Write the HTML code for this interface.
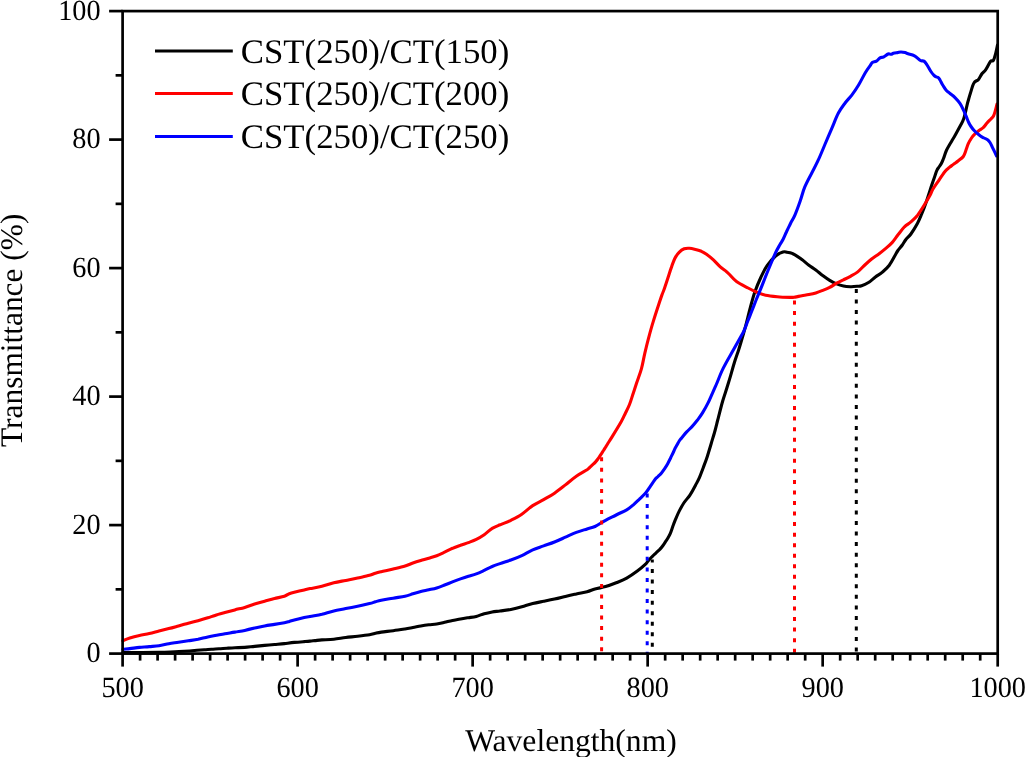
<!DOCTYPE html>
<html><head><meta charset="utf-8"><style>html,body{margin:0;padding:0;background:#fff;overflow:hidden}svg{display:block;will-change:transform}</style></head>
<body><svg width="1025" height="757" viewBox="0 0 1025 757">
<defs><clipPath id="pc"><rect x="0" y="0" width="1025" height="653.6"/></clipPath></defs>
<rect width="1025" height="757" fill="#fff"/>
<path d="M122.7,652.5 C128.8,652.5 150.3,652.5 159.0,652.4 C167.7,652.3 169.9,651.9 175.0,651.7 C180.1,651.5 185.9,651.2 189.6,651.0 C193.3,650.8 194.6,650.5 197.0,650.3 C199.4,650.1 201.9,649.9 204.3,649.7 C206.7,649.5 209.1,649.4 211.5,649.2 C213.9,649.0 216.3,648.9 218.9,648.7 C221.5,648.5 224.3,648.4 227.0,648.2 C229.7,648.0 232.1,647.8 235.0,647.7 C237.9,647.6 241.4,647.6 244.7,647.4 C248.0,647.2 251.3,646.7 254.6,646.4 C257.9,646.1 261.3,645.7 264.6,645.4 C267.9,645.1 271.2,644.8 274.5,644.5 C277.8,644.2 281.1,644.0 284.4,643.6 C287.7,643.2 291.0,642.7 294.3,642.4 C297.6,642.1 301.6,641.8 304.2,641.6 C306.8,641.4 308.2,641.3 310.0,641.1 C311.8,640.9 313.0,640.8 315.0,640.6 C317.0,640.4 318.8,640.1 321.9,639.9 C325.0,639.7 329.8,639.6 333.8,639.2 C337.8,638.8 341.7,638.0 345.7,637.5 C349.7,637.0 353.6,636.7 357.6,636.2 C361.6,635.8 366.5,635.3 369.5,634.8 C372.5,634.3 373.4,633.8 375.4,633.3 C377.4,632.8 378.3,632.5 381.3,632.1 C384.3,631.7 389.2,631.2 393.2,630.7 C397.1,630.2 401.7,629.5 405.0,629.0 C408.3,628.5 410.3,628.0 412.9,627.5 C415.5,627.0 418.1,626.4 420.8,625.9 C423.5,625.4 426.2,625.0 428.8,624.7 C431.4,624.4 434.1,624.4 436.7,624.0 C439.3,623.6 442.0,622.9 444.6,622.3 C447.2,621.7 449.9,620.9 452.5,620.4 C455.1,619.9 457.9,619.5 460.5,619.0 C463.1,618.5 465.8,618.1 468.4,617.7 C471.0,617.3 473.7,617.1 476.3,616.4 C478.9,615.7 481.6,614.5 484.2,613.7 C486.8,613.0 489.6,612.4 492.2,611.9 C494.8,611.4 496.9,611.4 500.0,611.0 C503.1,610.6 507.3,610.1 510.9,609.4 C514.5,608.7 518.2,607.8 521.8,606.8 C525.4,605.8 529.1,604.4 532.7,603.5 C536.3,602.6 540.0,602.0 543.6,601.3 C547.2,600.6 550.9,599.9 554.5,599.1 C558.1,598.3 561.8,597.3 565.4,596.4 C569.0,595.5 572.7,594.7 576.3,593.9 C579.9,593.1 584.0,592.5 587.1,591.7 C590.2,590.9 591.9,589.9 595.0,589.0 C598.1,588.1 602.1,587.6 605.6,586.6 C609.1,585.6 612.7,584.2 616.2,582.8 C619.7,581.4 623.2,580.2 626.7,578.2 C630.2,576.2 634.2,573.4 637.3,571.1 C640.3,568.9 643.1,566.5 645.0,564.7 C646.9,562.9 647.3,561.9 648.5,560.5 C649.7,559.1 651.1,557.6 652.4,556.4 C653.6,555.1 654.8,554.2 656.0,553.0 C657.2,551.8 658.6,550.6 659.8,549.4 C661.0,548.1 661.9,547.0 663.0,545.5 C664.1,544.0 665.3,541.9 666.2,540.6 C667.1,539.3 667.6,538.6 668.2,537.5 C668.8,536.4 669.2,536.0 670.0,534.2 C670.8,532.4 671.8,529.3 672.7,526.8 C673.6,524.3 674.4,522.0 675.5,519.4 C676.6,516.8 677.8,513.8 679.2,511.1 C680.6,508.4 682.0,505.7 683.8,503.0 C685.6,500.3 688.2,497.7 690.1,494.8 C692.0,491.9 693.9,488.4 695.4,485.5 C696.9,482.6 698.1,480.6 699.4,477.6 C700.7,474.6 702.0,471.0 703.3,467.5 C704.6,464.0 706.0,460.4 707.3,456.4 C708.6,452.3 710.0,447.6 711.3,443.2 C712.6,438.8 714.2,433.8 715.2,430.0 C716.2,426.2 716.4,425.3 717.6,420.5 C718.9,415.7 721.1,406.5 722.7,401.0 C724.3,395.5 725.7,391.8 727.0,387.5 C728.3,383.2 729.5,379.6 730.7,375.4 C731.9,371.2 733.1,366.7 734.4,362.5 C735.7,358.3 737.2,354.2 738.6,350.0 C740.0,345.8 741.3,341.2 742.5,337.0 C743.7,332.8 744.7,329.6 746.0,324.7 C747.3,319.8 748.8,313.2 750.3,307.7 C751.8,302.2 753.2,296.5 755.0,291.5 C756.8,286.5 758.8,281.8 760.8,277.5 C762.8,273.2 764.6,269.2 767.1,265.6 C769.6,262.0 773.0,258.3 775.6,256.0 C778.2,253.7 781.1,252.6 783.0,252.0 C784.9,251.4 785.8,252.1 787.0,252.2 C788.2,252.3 788.7,252.4 790.0,252.8 C791.3,253.2 793.0,253.7 795.0,254.8 C797.0,255.9 799.6,257.9 801.9,259.6 C804.2,261.3 806.6,263.5 808.9,265.2 C811.2,266.9 813.5,268.3 815.8,270.0 C818.1,271.7 820.4,273.9 822.7,275.6 C825.0,277.3 827.4,279.0 829.7,280.4 C832.0,281.8 834.3,283.0 836.6,283.9 C838.9,284.8 841.2,285.5 843.5,286.0 C845.8,286.5 848.2,286.6 850.5,286.7 C852.8,286.8 855.5,286.5 857.4,286.3 C859.2,286.1 859.8,286.3 861.6,285.7 C863.5,285.1 866.2,283.9 868.5,282.5 C870.8,281.1 873.1,278.7 875.4,277.0 C877.7,275.3 880.1,274.1 882.4,272.1 C884.7,270.1 887.2,268.0 889.3,265.2 C891.4,262.4 893.6,257.9 895.0,255.5 C896.4,253.1 896.7,252.2 897.9,250.5 C899.1,248.8 901.0,246.8 902.3,245.0 C903.6,243.2 904.5,241.3 905.9,239.5 C907.3,237.7 909.0,236.7 910.9,234.0 C912.8,231.3 915.6,226.8 917.4,223.5 C919.2,220.2 920.3,217.3 921.7,214.0 C923.1,210.7 924.1,208.2 925.7,203.5 C927.4,198.8 930.1,190.1 931.6,185.5 C933.1,180.9 934.0,178.5 934.9,176.0 C935.8,173.5 936.2,171.8 936.9,170.3 C937.6,168.8 938.3,168.1 939.0,167.0 C939.7,165.9 940.5,165.1 941.2,163.7 C942.0,162.3 942.6,160.7 943.5,158.5 C944.4,156.3 945.1,153.3 946.4,150.5 C947.7,147.7 950.1,143.9 951.5,141.4 C952.9,138.9 953.9,137.5 955.0,135.5 C956.1,133.5 957.4,131.1 958.4,129.3 C959.4,127.5 960.1,126.2 961.0,124.5 C961.9,122.8 962.9,121.1 963.6,119.0 C964.4,116.9 964.9,114.3 965.5,112.0 C966.1,109.7 966.5,107.5 967.0,105.3 C967.5,103.1 968.1,101.0 968.7,99.0 C969.3,97.0 969.5,96.0 970.4,93.3 C971.3,90.6 972.5,85.3 973.9,83.0 C975.2,80.7 977.1,81.0 978.5,79.4 C979.9,77.8 980.9,75.1 982.1,73.5 C983.3,71.9 984.2,71.9 985.6,69.9 C987.0,67.9 989.1,63.2 990.4,61.6 C991.7,60.0 992.5,61.8 993.4,60.4 C994.3,59.0 995.0,55.9 995.7,53.3 C996.4,50.7 997.2,46.4 997.5,45.0" fill="none" stroke="#000" stroke-width="3.1" stroke-linejoin="round" stroke-linecap="round"/><path d="M122.9,640.8 C124.1,640.3 127.0,638.8 129.8,637.9 C132.6,637.0 136.2,636.1 139.5,635.4 C142.8,634.7 146.1,634.2 149.3,633.5 C152.6,632.8 155.8,631.8 159.0,631.0 C162.2,630.2 165.6,629.4 168.8,628.6 C172.1,627.8 175.2,626.9 178.5,626.0 C181.8,625.1 185.1,624.1 188.3,623.2 C191.6,622.3 194.8,621.6 198.0,620.7 C201.2,619.8 205.0,618.7 207.8,617.8 C210.6,616.9 212.2,616.3 215.0,615.4 C217.8,614.5 221.6,613.5 224.9,612.6 C228.2,611.7 231.5,610.8 234.8,609.9 C238.1,609.0 241.4,608.4 244.7,607.4 C248.0,606.4 251.3,605.1 254.6,604.1 C257.9,603.1 261.3,602.1 264.6,601.2 C267.9,600.3 271.2,599.3 274.5,598.5 C277.8,597.7 281.9,597.0 284.4,596.2 C286.9,595.4 287.6,594.4 289.3,593.7 C291.0,593.1 291.8,592.9 294.3,592.3 C296.8,591.7 301.6,590.5 304.2,589.9 C306.8,589.3 307.1,589.2 310.0,588.6 C312.9,588.0 317.9,587.3 321.9,586.3 C325.9,585.3 329.8,583.8 333.8,582.8 C337.8,581.8 341.7,581.2 345.7,580.4 C349.7,579.6 353.6,578.9 357.6,578.0 C361.6,577.1 366.5,576.1 369.5,575.3 C372.5,574.5 373.4,573.8 375.4,573.2 C377.4,572.6 378.3,572.4 381.3,571.7 C384.3,571.0 389.2,570.1 393.2,569.1 C397.2,568.1 401.8,567.0 405.1,566.0 C408.4,565.0 410.3,563.9 412.9,563.0 C415.5,562.1 418.1,561.3 420.8,560.5 C423.5,559.7 426.2,559.0 428.8,558.2 C431.4,557.4 434.1,556.7 436.7,555.7 C439.3,554.7 442.0,553.4 444.6,552.2 C447.2,551.0 449.9,549.4 452.5,548.3 C455.1,547.1 457.9,546.2 460.5,545.3 C463.1,544.3 465.8,543.6 468.4,542.6 C471.0,541.6 473.7,540.7 476.3,539.4 C478.9,538.1 481.6,536.5 484.2,534.7 C486.8,532.9 489.5,530.0 492.2,528.4 C494.9,526.8 497.0,526.1 500.1,524.8 C503.2,523.4 507.3,522.1 510.9,520.3 C514.5,518.5 518.2,516.7 521.8,514.2 C525.4,511.8 529.1,508.0 532.7,505.6 C536.3,503.2 540.0,501.8 543.6,499.7 C547.2,497.6 550.9,495.7 554.5,493.2 C558.1,490.7 561.8,487.7 565.4,484.9 C569.0,482.1 572.7,478.7 576.3,476.2 C579.9,473.7 584.8,471.2 587.1,469.7 C589.4,468.1 589.3,467.8 590.3,466.9 C591.3,466.0 592.1,465.2 593.0,464.4 C593.9,463.6 594.6,463.0 595.6,461.9 C596.6,460.8 597.8,459.1 598.7,457.9 C599.6,456.7 600.0,455.9 600.8,454.7 C601.6,453.5 602.6,451.9 603.5,450.5 C604.4,449.1 605.2,447.7 606.1,446.3 C607.0,444.9 607.7,443.7 608.8,442.0 C609.9,440.3 610.4,439.5 612.5,436.1 C614.6,432.7 619.1,425.4 621.3,421.5 C623.5,417.6 624.1,415.8 625.5,413.0 C626.9,410.2 628.2,407.7 629.5,404.5 C630.8,401.3 631.8,397.6 633.0,394.0 C634.2,390.4 635.2,387.3 636.6,383.1 C638.0,378.9 640.0,373.9 641.4,368.9 C642.8,363.8 643.7,357.9 644.9,352.8 C646.1,347.7 647.1,343.5 648.5,338.3 C649.9,333.1 651.3,327.8 653.3,321.4 C655.2,315.0 658.7,304.6 660.2,300.0 C661.7,295.4 661.6,295.9 662.3,294.0 C663.0,292.1 663.6,291.0 664.5,288.3 C665.4,285.6 666.8,281.4 667.9,278.0 C669.0,274.6 670.1,270.9 671.3,267.6 C672.4,264.4 673.5,261.1 674.8,258.5 C676.1,255.9 677.5,253.9 679.1,252.3 C680.7,250.7 682.5,249.5 684.2,248.8 C685.9,248.1 687.7,248.2 689.4,248.3 C691.1,248.4 692.5,248.7 694.5,249.2 C696.5,249.7 699.4,250.5 701.4,251.3 C703.4,252.2 704.5,252.9 706.5,254.3 C708.5,255.7 711.1,257.8 713.4,259.9 C715.7,262.0 718.4,265.1 720.3,266.8 C722.2,268.6 723.5,269.2 725.0,270.4 C726.5,271.6 727.1,272.1 729.0,274.0 C730.9,275.9 733.3,279.2 736.5,281.5 C739.7,283.8 744.7,286.2 748.1,288.0 C751.5,289.8 754.0,291.1 756.9,292.3 C759.8,293.5 762.2,294.5 765.6,295.2 C769.0,295.9 773.1,296.3 777.2,296.7 C781.3,297.1 787.0,297.3 790.0,297.4 C793.0,297.5 793.0,297.4 795.0,297.1 C797.0,296.8 799.6,296.1 801.9,295.7 C804.2,295.3 806.6,295.1 808.9,294.6 C811.2,294.1 813.5,293.6 815.8,292.9 C818.1,292.2 820.4,291.3 822.7,290.4 C825.0,289.5 827.4,288.6 829.7,287.4 C832.0,286.2 834.3,284.5 836.6,283.2 C838.9,281.9 841.2,280.9 843.5,279.8 C845.8,278.7 848.2,277.6 850.5,276.3 C852.8,275.0 855.1,273.9 857.4,272.1 C859.7,270.3 862.0,267.6 864.3,265.5 C866.6,263.4 869.0,261.2 871.3,259.3 C873.6,257.4 875.9,256.1 878.2,254.4 C880.5,252.7 882.9,250.9 885.2,248.9 C887.5,246.9 890.0,244.9 892.1,242.6 C894.2,240.2 895.9,237.4 898.0,234.8 C900.1,232.2 902.4,229.0 904.5,226.8 C906.6,224.7 908.8,223.8 910.9,221.9 C913.0,220.0 915.2,218.1 917.4,215.4 C919.5,212.7 921.7,209.2 923.8,205.8 C925.9,202.4 928.7,197.7 930.2,195.0 C931.7,192.3 931.2,192.0 932.7,189.4 C934.2,186.8 937.5,182.3 939.5,179.3 C941.5,176.3 943.4,173.5 945.0,171.5 C946.6,169.5 948.0,168.6 949.4,167.4 C950.8,166.2 952.0,165.5 953.4,164.4 C954.8,163.3 956.4,162.3 958.0,161.0 C959.6,159.7 962.0,158.3 963.3,156.5 C964.6,154.7 965.2,152.2 966.0,150.0 C966.8,147.8 967.4,145.6 968.3,143.6 C969.2,141.6 970.4,139.7 971.5,138.0 C972.6,136.3 974.0,134.9 975.2,133.7 C976.5,132.4 977.7,131.5 979.0,130.5 C980.3,129.5 981.9,128.9 983.2,127.7 C984.5,126.5 985.7,124.5 987.0,123.0 C988.3,121.5 990.0,120.0 991.1,118.8 C992.2,117.6 992.9,117.2 993.5,116.0 C994.1,114.8 994.4,113.9 995.0,111.9 C995.6,109.9 996.7,105.3 997.0,104.0" fill="none" stroke="#f00" stroke-width="3.1" stroke-linejoin="round" stroke-linecap="round"/><path d="M122.9,649.4 C124.1,649.3 127.0,648.9 129.8,648.6 C132.6,648.3 136.2,647.7 139.5,647.4 C142.8,647.1 146.1,646.9 149.3,646.6 C152.6,646.3 155.8,646.2 159.0,645.7 C162.2,645.2 165.6,644.3 168.8,643.7 C172.1,643.1 175.2,642.8 178.5,642.3 C181.8,641.8 185.1,641.3 188.3,640.8 C191.6,640.3 194.8,639.9 198.0,639.3 C201.2,638.6 205.0,637.5 207.8,636.9 C210.6,636.3 212.2,636.0 215.0,635.5 C217.8,635.0 221.6,634.4 224.9,633.8 C228.2,633.2 231.5,632.7 234.8,632.1 C238.1,631.5 241.4,631.1 244.7,630.4 C248.0,629.7 251.3,628.9 254.6,628.1 C257.9,627.4 261.3,626.5 264.6,625.9 C267.9,625.3 271.2,624.9 274.5,624.4 C277.8,623.9 281.9,623.2 284.4,622.7 C286.9,622.2 287.6,621.9 289.3,621.4 C291.0,620.9 291.8,620.6 294.3,620.0 C296.8,619.4 301.6,618.2 304.2,617.6 C306.8,617.0 307.1,617.2 310.0,616.6 C312.9,616.0 317.9,615.2 321.9,614.3 C325.9,613.3 329.8,611.8 333.8,610.9 C337.8,610.0 341.7,609.4 345.7,608.6 C349.7,607.8 353.6,607.0 357.6,606.2 C361.6,605.4 366.5,604.3 369.5,603.6 C372.5,602.9 373.4,602.4 375.4,601.8 C377.4,601.2 378.3,600.8 381.3,600.2 C384.3,599.6 389.2,598.9 393.2,598.2 C397.1,597.5 401.7,596.9 405.0,596.2 C408.3,595.5 410.3,594.6 412.9,593.8 C415.5,593.0 418.1,592.2 420.8,591.5 C423.5,590.8 426.2,590.4 428.8,589.8 C431.4,589.2 434.1,588.7 436.7,587.9 C439.3,587.1 442.0,586.0 444.6,585.0 C447.2,584.0 449.9,582.9 452.5,581.9 C455.1,580.9 457.9,579.8 460.5,578.9 C463.1,578.0 465.8,577.1 468.4,576.3 C471.0,575.5 473.7,574.9 476.3,573.9 C478.9,572.9 481.6,571.6 484.2,570.4 C486.8,569.2 489.6,567.6 492.2,566.5 C494.8,565.4 496.9,564.7 500.0,563.6 C503.1,562.5 507.3,561.3 510.9,560.0 C514.5,558.7 518.2,557.3 521.8,555.6 C525.4,553.9 529.1,551.4 532.7,549.8 C536.3,548.2 540.0,547.2 543.6,545.9 C547.2,544.6 550.9,543.5 554.5,542.0 C558.1,540.5 561.8,538.8 565.4,537.2 C569.0,535.6 572.7,533.8 576.3,532.4 C579.9,531.0 584.0,529.9 587.1,528.9 C590.2,527.9 591.9,527.9 595.0,526.5 C598.1,525.1 602.1,522.2 605.6,520.3 C609.1,518.4 612.7,516.8 616.2,515.0 C619.7,513.2 623.9,511.4 626.7,509.8 C629.5,508.2 631.0,506.9 633.1,505.1 C635.2,503.3 637.3,501.2 639.4,499.2 C641.5,497.1 644.0,494.9 645.8,492.8 C647.6,490.7 648.5,489.0 650.0,486.8 C651.5,484.6 653.7,481.2 655.0,479.5 C656.3,477.8 657.0,477.6 658.0,476.5 C659.0,475.4 660.2,474.5 661.3,473.2 C662.4,471.9 663.4,470.4 664.5,468.8 C665.6,467.2 666.7,465.5 667.7,463.7 C668.7,461.9 669.6,460.0 670.5,458.2 C671.4,456.4 672.2,454.6 673.0,453.0 C673.8,451.4 674.3,449.9 675.0,448.5 C675.7,447.1 676.5,445.9 677.2,444.6 C677.9,443.4 678.5,442.1 679.2,441.0 C679.9,439.9 680.6,439.2 681.4,438.2 C682.2,437.2 683.1,436.1 684.0,435.0 C684.9,433.9 685.4,433.3 686.7,431.9 C688.0,430.5 690.2,428.5 692.0,426.6 C693.8,424.7 695.5,422.6 697.3,420.3 C699.0,418.0 700.8,415.7 702.5,412.9 C704.2,410.1 706.1,406.8 707.8,403.4 C709.5,400.0 711.1,396.0 712.6,392.8 C714.1,389.6 714.7,388.1 716.5,384.0 C718.3,379.9 720.5,373.6 723.4,367.9 C726.2,362.1 730.7,354.7 733.6,349.5 C736.5,344.3 739.2,339.6 740.9,336.5 C742.6,333.4 742.7,333.7 743.9,331.0 C745.1,328.3 746.6,324.0 748.0,320.5 C749.4,317.0 750.9,313.4 752.3,309.8 C753.7,306.2 755.1,302.5 756.5,299.0 C757.9,295.5 759.4,292.2 760.8,288.7 C762.2,285.2 763.6,281.5 765.0,278.0 C766.4,274.5 767.5,271.7 769.3,267.5 C771.1,263.3 773.8,256.5 775.6,252.7 C777.4,248.9 778.8,246.7 780.0,244.5 C781.2,242.3 781.9,241.6 783.0,239.5 C784.1,237.4 785.1,234.7 786.4,232.0 C787.6,229.3 789.1,226.4 790.5,223.5 C791.9,220.6 793.4,218.6 795.0,214.8 C796.6,211.1 798.6,205.6 800.2,201.0 C801.8,196.4 802.8,191.8 804.7,187.2 C806.6,182.6 809.1,178.2 811.4,173.7 C813.6,169.2 816.0,165.1 818.2,160.2 C820.5,155.3 822.7,149.7 824.9,144.5 C827.1,139.3 829.4,134.0 831.6,128.8 C833.9,123.6 836.1,117.4 838.4,113.1 C840.6,108.8 842.9,106.0 845.1,103.0 C847.3,100.0 849.5,98.1 851.8,95.1 C854.0,92.1 856.4,88.7 858.6,85.0 C860.9,81.3 863.4,75.9 865.3,72.7 C867.2,69.5 868.8,67.5 870.0,65.8 C871.2,64.1 871.2,63.3 872.3,62.5 C873.4,61.7 875.1,61.9 876.4,61.1 C877.7,60.3 878.8,58.6 880.0,57.9 C881.2,57.2 882.1,57.6 883.5,57.0 C884.9,56.4 886.8,54.5 888.1,54.0 C889.4,53.5 890.2,54.4 891.1,54.3 C892.0,54.2 892.3,53.6 893.4,53.3 C894.5,53.0 896.2,52.8 897.5,52.6 C898.8,52.4 899.7,52.0 901.0,52.0 C902.3,52.0 903.9,52.3 905.1,52.6 C906.3,52.9 906.5,53.3 908.1,53.8 C909.7,54.3 912.5,54.7 914.5,55.8 C916.5,56.9 918.8,59.6 920.4,60.5 C922.0,61.4 922.8,60.4 923.9,61.1 C925.0,61.8 925.6,62.9 926.8,64.6 C928.0,66.3 929.7,69.7 930.9,71.5 C932.1,73.3 933.1,74.4 934.0,75.3 C934.9,76.2 935.8,76.6 936.5,77.0 C937.2,77.4 937.7,77.1 938.3,77.6 C938.9,78.1 939.2,78.7 940.0,80.0 C940.8,81.3 941.9,83.8 943.0,85.5 C944.1,87.2 945.2,89.2 946.4,90.5 C947.6,91.8 948.6,92.3 950.0,93.5 C951.4,94.7 953.3,95.9 955.0,97.6 C956.7,99.3 958.7,101.5 960.1,103.6 C961.5,105.7 962.6,108.3 963.6,110.4 C964.6,112.5 965.1,114.0 966.0,116.0 C966.9,118.0 967.9,120.8 968.7,122.5 C969.5,124.2 970.1,125.2 971.0,126.5 C971.9,127.8 972.9,129.1 973.9,130.2 C974.9,131.3 975.9,132.2 977.0,133.2 C978.1,134.2 979.6,135.4 980.8,136.2 C982.0,137.0 982.9,137.4 984.0,138.0 C985.1,138.6 986.6,138.9 987.6,139.7 C988.6,140.4 989.1,141.1 990.0,142.5 C990.9,143.9 991.7,145.9 992.8,148.2 C993.9,150.4 996.0,154.7 996.6,156.0" fill="none" stroke="#00f" stroke-width="3.1" stroke-linejoin="round" stroke-linecap="round"/><line x1="601.6" y1="651.2" x2="601.6" y2="457" stroke="#f00" stroke-width="3" stroke-dasharray="4 6.55" clip-path="url(#pc)"/><line x1="647.2" y1="655.8" x2="647.2" y2="493.5" stroke="#00f" stroke-width="3" stroke-dasharray="4 6.55" clip-path="url(#pc)"/><line x1="652.3" y1="657.4" x2="652.3" y2="559.5" stroke="#000" stroke-width="3" stroke-dasharray="4 6.55" clip-path="url(#pc)"/><line x1="794.5" y1="652.7" x2="794.5" y2="300" stroke="#f00" stroke-width="3" stroke-dasharray="4 6.55" clip-path="url(#pc)"/><line x1="856.3" y1="651.6" x2="856.3" y2="289" stroke="#000" stroke-width="3" stroke-dasharray="4 6.55" clip-path="url(#pc)"/>
<rect x="122.6" y="11.1" width="875.1" height="642.5" fill="none" stroke="#000" stroke-width="2.7"/><line x1="122.60" y1="653.6" x2="122.60" y2="666.6" stroke="#000" stroke-width="2.7"/><line x1="140.10" y1="653.6" x2="140.10" y2="660.6" stroke="#000" stroke-width="2.7"/><line x1="157.60" y1="653.6" x2="157.60" y2="660.6" stroke="#000" stroke-width="2.7"/><line x1="175.11" y1="653.6" x2="175.11" y2="660.6" stroke="#000" stroke-width="2.7"/><line x1="192.61" y1="653.6" x2="192.61" y2="660.6" stroke="#000" stroke-width="2.7"/><line x1="210.11" y1="653.6" x2="210.11" y2="660.6" stroke="#000" stroke-width="2.7"/><line x1="227.61" y1="653.6" x2="227.61" y2="660.6" stroke="#000" stroke-width="2.7"/><line x1="245.11" y1="653.6" x2="245.11" y2="660.6" stroke="#000" stroke-width="2.7"/><line x1="262.62" y1="653.6" x2="262.62" y2="660.6" stroke="#000" stroke-width="2.7"/><line x1="280.12" y1="653.6" x2="280.12" y2="660.6" stroke="#000" stroke-width="2.7"/><line x1="297.62" y1="653.6" x2="297.62" y2="666.6" stroke="#000" stroke-width="2.7"/><line x1="315.12" y1="653.6" x2="315.12" y2="660.6" stroke="#000" stroke-width="2.7"/><line x1="332.62" y1="653.6" x2="332.62" y2="660.6" stroke="#000" stroke-width="2.7"/><line x1="350.13" y1="653.6" x2="350.13" y2="660.6" stroke="#000" stroke-width="2.7"/><line x1="367.63" y1="653.6" x2="367.63" y2="660.6" stroke="#000" stroke-width="2.7"/><line x1="385.13" y1="653.6" x2="385.13" y2="660.6" stroke="#000" stroke-width="2.7"/><line x1="402.63" y1="653.6" x2="402.63" y2="660.6" stroke="#000" stroke-width="2.7"/><line x1="420.13" y1="653.6" x2="420.13" y2="660.6" stroke="#000" stroke-width="2.7"/><line x1="437.64" y1="653.6" x2="437.64" y2="660.6" stroke="#000" stroke-width="2.7"/><line x1="455.14" y1="653.6" x2="455.14" y2="660.6" stroke="#000" stroke-width="2.7"/><line x1="472.64" y1="653.6" x2="472.64" y2="666.6" stroke="#000" stroke-width="2.7"/><line x1="490.14" y1="653.6" x2="490.14" y2="660.6" stroke="#000" stroke-width="2.7"/><line x1="507.64" y1="653.6" x2="507.64" y2="660.6" stroke="#000" stroke-width="2.7"/><line x1="525.15" y1="653.6" x2="525.15" y2="660.6" stroke="#000" stroke-width="2.7"/><line x1="542.65" y1="653.6" x2="542.65" y2="660.6" stroke="#000" stroke-width="2.7"/><line x1="560.15" y1="653.6" x2="560.15" y2="660.6" stroke="#000" stroke-width="2.7"/><line x1="577.65" y1="653.6" x2="577.65" y2="660.6" stroke="#000" stroke-width="2.7"/><line x1="595.15" y1="653.6" x2="595.15" y2="660.6" stroke="#000" stroke-width="2.7"/><line x1="612.66" y1="653.6" x2="612.66" y2="660.6" stroke="#000" stroke-width="2.7"/><line x1="630.16" y1="653.6" x2="630.16" y2="660.6" stroke="#000" stroke-width="2.7"/><line x1="647.66" y1="653.6" x2="647.66" y2="666.6" stroke="#000" stroke-width="2.7"/><line x1="665.16" y1="653.6" x2="665.16" y2="660.6" stroke="#000" stroke-width="2.7"/><line x1="682.66" y1="653.6" x2="682.66" y2="660.6" stroke="#000" stroke-width="2.7"/><line x1="700.17" y1="653.6" x2="700.17" y2="660.6" stroke="#000" stroke-width="2.7"/><line x1="717.67" y1="653.6" x2="717.67" y2="660.6" stroke="#000" stroke-width="2.7"/><line x1="735.17" y1="653.6" x2="735.17" y2="660.6" stroke="#000" stroke-width="2.7"/><line x1="752.67" y1="653.6" x2="752.67" y2="660.6" stroke="#000" stroke-width="2.7"/><line x1="770.17" y1="653.6" x2="770.17" y2="660.6" stroke="#000" stroke-width="2.7"/><line x1="787.68" y1="653.6" x2="787.68" y2="660.6" stroke="#000" stroke-width="2.7"/><line x1="805.18" y1="653.6" x2="805.18" y2="660.6" stroke="#000" stroke-width="2.7"/><line x1="822.68" y1="653.6" x2="822.68" y2="666.6" stroke="#000" stroke-width="2.7"/><line x1="840.18" y1="653.6" x2="840.18" y2="660.6" stroke="#000" stroke-width="2.7"/><line x1="857.68" y1="653.6" x2="857.68" y2="660.6" stroke="#000" stroke-width="2.7"/><line x1="875.19" y1="653.6" x2="875.19" y2="660.6" stroke="#000" stroke-width="2.7"/><line x1="892.69" y1="653.6" x2="892.69" y2="660.6" stroke="#000" stroke-width="2.7"/><line x1="910.19" y1="653.6" x2="910.19" y2="660.6" stroke="#000" stroke-width="2.7"/><line x1="927.69" y1="653.6" x2="927.69" y2="660.6" stroke="#000" stroke-width="2.7"/><line x1="945.19" y1="653.6" x2="945.19" y2="660.6" stroke="#000" stroke-width="2.7"/><line x1="962.70" y1="653.6" x2="962.70" y2="660.6" stroke="#000" stroke-width="2.7"/><line x1="980.20" y1="653.6" x2="980.20" y2="660.6" stroke="#000" stroke-width="2.7"/><line x1="997.70" y1="653.6" x2="997.70" y2="666.6" stroke="#000" stroke-width="2.7"/><line x1="122.6" y1="653.60" x2="109.1" y2="653.60" stroke="#000" stroke-width="2.7"/><line x1="122.6" y1="589.35" x2="115.6" y2="589.35" stroke="#000" stroke-width="2.7"/><line x1="122.6" y1="525.10" x2="109.1" y2="525.10" stroke="#000" stroke-width="2.7"/><line x1="122.6" y1="460.85" x2="115.6" y2="460.85" stroke="#000" stroke-width="2.7"/><line x1="122.6" y1="396.60" x2="109.1" y2="396.60" stroke="#000" stroke-width="2.7"/><line x1="122.6" y1="332.35" x2="115.6" y2="332.35" stroke="#000" stroke-width="2.7"/><line x1="122.6" y1="268.10" x2="109.1" y2="268.10" stroke="#000" stroke-width="2.7"/><line x1="122.6" y1="203.85" x2="115.6" y2="203.85" stroke="#000" stroke-width="2.7"/><line x1="122.6" y1="139.60" x2="109.1" y2="139.60" stroke="#000" stroke-width="2.7"/><line x1="122.6" y1="75.35" x2="115.6" y2="75.35" stroke="#000" stroke-width="2.7"/><line x1="122.6" y1="11.10" x2="109.1" y2="11.10" stroke="#000" stroke-width="2.7"/>
<text transform="translate(122.6,696.8) scale(1.01,1.045)" font-size="28" text-anchor="middle" font-family="Liberation Serif, serif" text-rendering="geometricPrecision">500</text><text transform="translate(297.6,696.8) scale(1.01,1.045)" font-size="28" text-anchor="middle" font-family="Liberation Serif, serif" text-rendering="geometricPrecision">600</text><text transform="translate(472.6,696.8) scale(1.01,1.045)" font-size="28" text-anchor="middle" font-family="Liberation Serif, serif" text-rendering="geometricPrecision">700</text><text transform="translate(647.7,696.8) scale(1.01,1.045)" font-size="28" text-anchor="middle" font-family="Liberation Serif, serif" text-rendering="geometricPrecision">800</text><text transform="translate(822.7,696.8) scale(1.01,1.045)" font-size="28" text-anchor="middle" font-family="Liberation Serif, serif" text-rendering="geometricPrecision">900</text><text transform="translate(997.7,696.8) scale(1.01,1.045)" font-size="28" text-anchor="middle" font-family="Liberation Serif, serif" text-rendering="geometricPrecision">1000</text><text transform="translate(100.6,662.2) scale(1.01,1.045)" font-size="28" text-anchor="end" font-family="Liberation Serif, serif" text-rendering="geometricPrecision">0</text><text transform="translate(100.6,533.7) scale(1.01,1.045)" font-size="28" text-anchor="end" font-family="Liberation Serif, serif" text-rendering="geometricPrecision">20</text><text transform="translate(100.6,405.2) scale(1.01,1.045)" font-size="28" text-anchor="end" font-family="Liberation Serif, serif" text-rendering="geometricPrecision">40</text><text transform="translate(100.6,276.7) scale(1.01,1.045)" font-size="28" text-anchor="end" font-family="Liberation Serif, serif" text-rendering="geometricPrecision">60</text><text transform="translate(100.6,148.2) scale(1.01,1.045)" font-size="28" text-anchor="end" font-family="Liberation Serif, serif" text-rendering="geometricPrecision">80</text><text transform="translate(100.6,19.7) scale(1.01,1.045)" font-size="28" text-anchor="end" font-family="Liberation Serif, serif" text-rendering="geometricPrecision">100</text><text transform="translate(571,750.6) scale(1.0,1.0)" font-size="31.6" text-anchor="middle" font-family="Liberation Serif, serif" text-rendering="geometricPrecision">Wavelength(nm)</text><text transform="translate(21.6,330.3) rotate(-90)" font-size="31.4" text-anchor="middle" font-family="Liberation Serif, serif" text-rendering="geometricPrecision">Transmittance (%)</text><line x1="155" y1="51" x2="232.8" y2="51" stroke="#000" stroke-width="3"/><text transform="translate(240.8,62.6) scale(1.008,1.0)" font-size="34.5" font-family="Liberation Serif, serif" text-rendering="geometricPrecision">CST(250)/CT(150)</text><line x1="155" y1="93.6" x2="232.8" y2="93.6" stroke="#f00" stroke-width="3"/><text transform="translate(240.8,105.19999999999999) scale(1.008,1.0)" font-size="34.5" font-family="Liberation Serif, serif" text-rendering="geometricPrecision">CST(250)/CT(200)</text><line x1="155" y1="136.4" x2="232.8" y2="136.4" stroke="#00f" stroke-width="3"/><text transform="translate(240.8,148.0) scale(1.008,1.0)" font-size="34.5" font-family="Liberation Serif, serif" text-rendering="geometricPrecision">CST(250)/CT(250)</text>
</svg></body></html>
